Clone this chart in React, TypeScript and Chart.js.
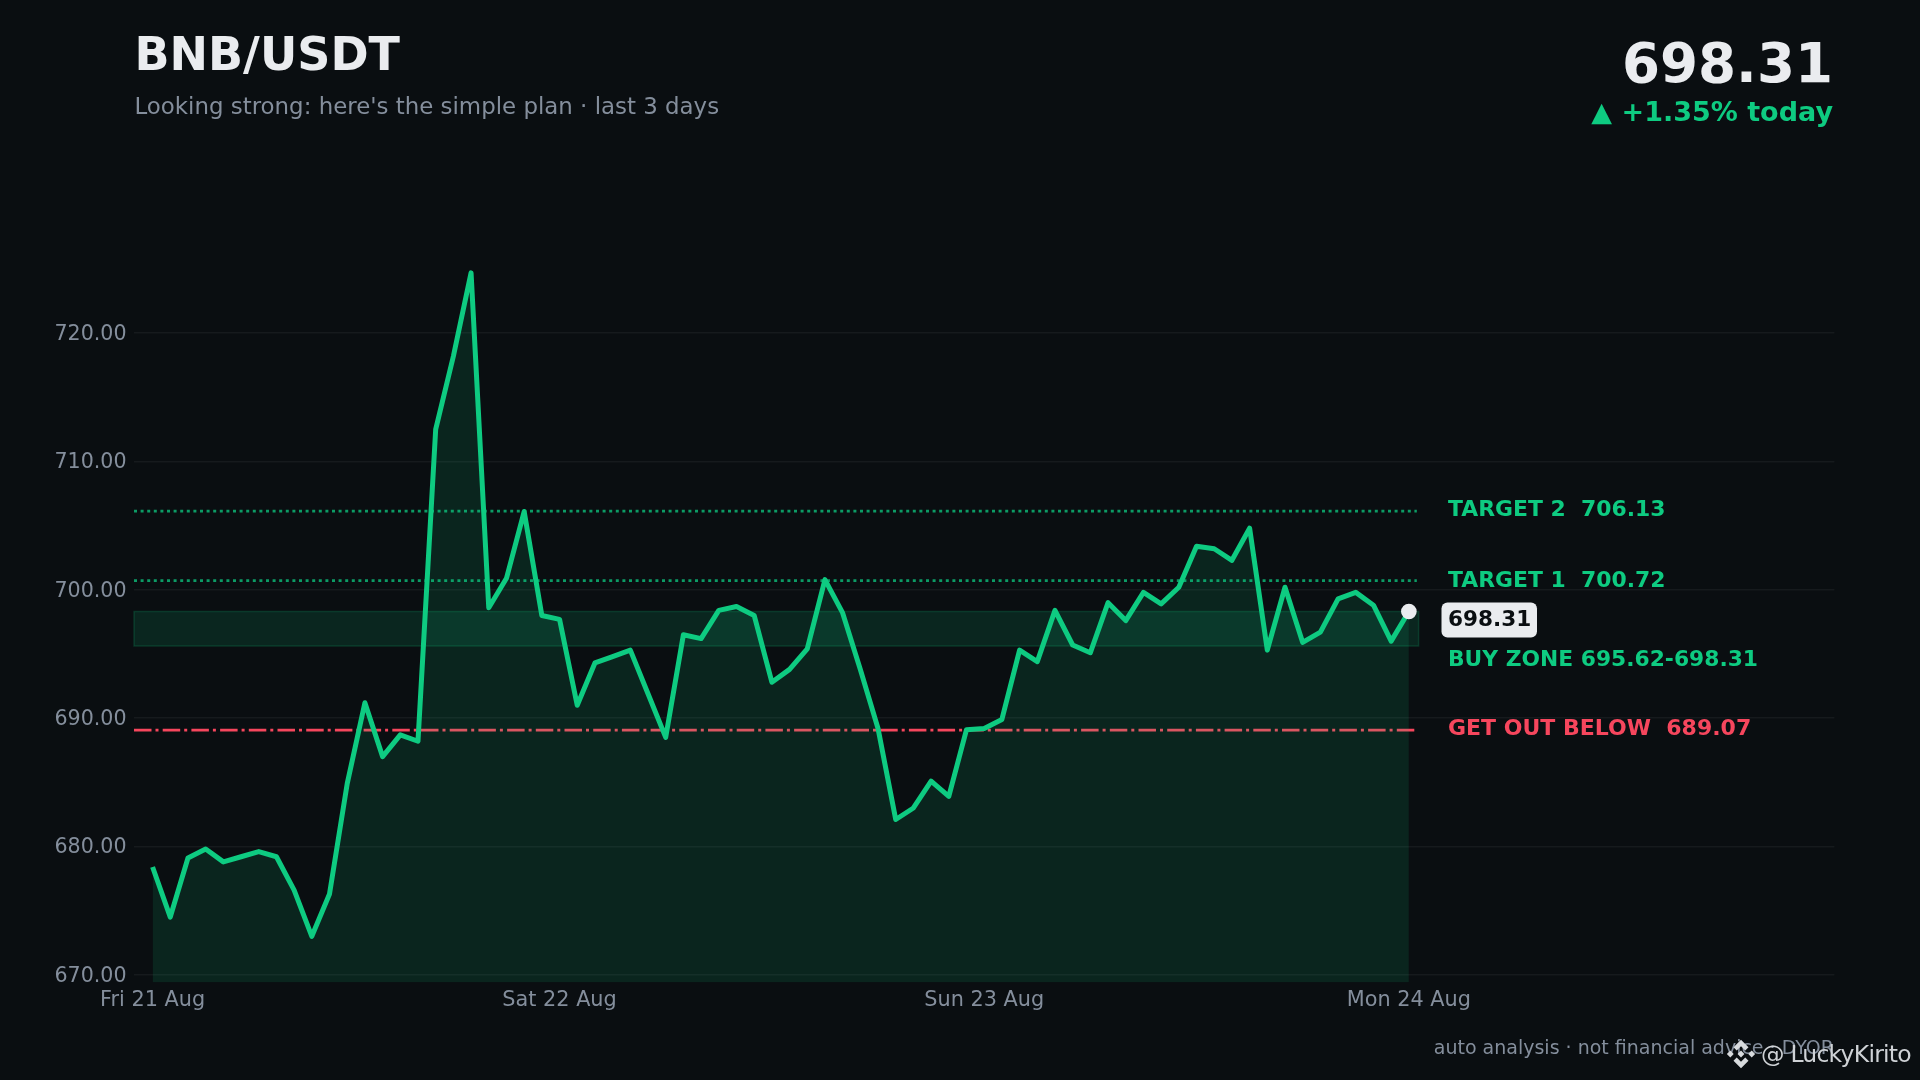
import React, { useEffect, useRef } from "react";
import { Chart, registerables } from "chart.js";

Chart.register(...registerables);

const prices = [
  678.4, 674.5, 679.1, 679.8, 678.8, 679.2, 679.6, 679.2, 676.6, 673.0, 676.3, 684.9,
  691.2, 687.0, 688.7, 688.2, 712.5, 718.2, 724.7, 698.6, 700.9, 706.1, 698.0, 697.7,
  691.0, 694.3, 694.8, 695.3, 691.9, 688.5, 696.5, 696.2, 698.4, 698.7, 698.0, 692.8,
  693.8, 695.4, 700.8, 698.2, 693.8, 689.2, 682.1, 683.0, 685.1, 683.9, 689.1, 689.2,
  689.9, 695.3, 694.4, 698.4, 695.7, 695.1, 699.0, 697.6, 699.8, 698.9, 700.2, 703.4,
  703.2, 702.3, 704.8, 695.3, 700.2, 695.9, 696.7, 699.3, 699.8, 698.8, 696.0, 698.31,
];
const xTickIndices = [0, 23, 47, 71];
const xTickLabels = ["Fri 21 Aug", "Sat 22 Aug", "Sun 23 Aug", "Mon 24 Aug"];
const yTicks = [670, 680, 690, 700, 710, 720];

const target1 = 700.72;
const target2 = 706.13;
const stopLevel = 689.07;
const zoneLow = 695.62;
const zoneHigh = 698.31;
const lastPrice = 698.31;
const levelStart = -1.05;
const levelEnd = 71.45;
const zoneEnd = 71.55;

const target1Text = "TARGET 1  700.72";
const target2Text = "TARGET 2  706.13";
const zoneText = "BUY ZONE 695.62-698.31";
const stopText = "GET OUT BELOW  689.07";
const pillText = "698.31";

const FONT = '"DejaVu Sans", sans-serif';
const BG = "#0a0e11";
const GREEN = "#0ecb81";
const RED = "#f6465d";
const WHITE = "#eaecef";
const GRAY = "#848e9c";

const overlayPlugin = {
  id: "overlay",
  beforeDatasetsDraw(chart: any) {
    const { ctx, scales } = chart;
    const x0 = scales.x.getPixelForValue(levelStart);
    const x1 = scales.x.getPixelForValue(zoneEnd);
    const y0 = scales.y.getPixelForValue(zoneHigh);
    const y1 = scales.y.getPixelForValue(zoneLow);
    ctx.save();
    ctx.fillStyle = "rgba(14,203,129,0.13)";
    ctx.fillRect(x0, y0, x1 - x0, y1 - y0);
    ctx.strokeStyle = "rgba(14,203,129,0.18)";
    ctx.lineWidth = 1.5;
    ctx.strokeRect(x0, y0, x1 - x0, y1 - y0);
    ctx.restore();
  },
  afterDatasetsDraw(chart: any) {
    const { ctx, scales } = chart;
    const y = (v: number) => scales.y.getPixelForValue(v);
    const tx = 1448;
    ctx.save();
    ctx.textBaseline = "middle";
    ctx.textAlign = "left";
    ctx.font = `bold 21.9px ${FONT}`;
    ctx.fillStyle = GREEN;
    ctx.fillText(target2Text, tx, y(target2) - 0.5);
    ctx.fillText(target1Text, tx, y(target1) + 0.5);
    ctx.font = `bold 21.8px ${FONT}`;
    ctx.fillText(zoneText, tx, y((zoneLow + zoneHigh) / 2) + 31.5);
    ctx.font = `bold 22px ${FONT}`;
    ctx.fillStyle = RED;
    ctx.fillText(stopText, tx, y(stopLevel) - 0.5);
    const py = y(lastPrice) + 8.5;
    ctx.fillStyle = WHITE;
    ctx.beginPath();
    ctx.roundRect(1441.5, py - 17.5, 95.5, 35, 6);
    ctx.fill();
    ctx.font = `bold 21.6px ${FONT}`;
    ctx.fillStyle = BG;
    ctx.fillText(pillText, 1448, py + 0.5);
    ctx.restore();
  },
};

function levelLine(value: number, color: string, dash: number[], width: number, order: number) {
  return {
    type: "line" as const,
    data: [
      { x: levelStart, y: value },
      { x: levelEnd, y: value },
    ],
    borderColor: color,
    borderWidth: width,
    borderDash: dash,
    pointRadius: 0,
    fill: false,
    order,
  };
}

const textBase: React.CSSProperties = {
  position: "absolute",
  fontFamily: FONT,
  whiteSpace: "pre",
  lineHeight: 1,
  margin: 0,
};

export default function App() {
  const ref = useRef<HTMLCanvasElement | null>(null);
  useEffect(() => {
    document.body.style.margin = "0";
    document.body.style.background = BG;
    const chart = new Chart(ref.current!, {
      type: "line",
      data: {
        datasets: [
          {
            data: [{ x: prices.length - 1, y: lastPrice }],
            pointRadius: 7.8,
            pointBackgroundColor: WHITE,
            pointBorderWidth: 0,
            showLine: false,
            order: 0,
          },
          {
            data: prices.map((y, x) => ({ x, y })),
            borderColor: GREEN,
            borderWidth: 5,
            borderJoinStyle: "round",
            backgroundColor: "rgba(14,203,129,0.12)",
            fill: "start",
            tension: 0,
            pointRadius: 0,
            order: 1,
          },
          levelLine(target2, "rgba(14,203,129,0.75)", [3, 3.6], 2.8, 2),
          levelLine(target1, "rgba(14,203,129,0.75)", [3, 3.6], 2.8, 2),
          levelLine(stopLevel, RED, [17.5, 4, 3, 4.2], 2.8, 2),
        ] as any,
      },
      options: {
        responsive: false,
        animation: false,
        devicePixelRatio: 1,
        layout: { padding: { top: 230.5, right: 85.6, left: 0, bottom: 0 } },
        plugins: { legend: { display: false }, tooltip: { enabled: false }, title: { display: false } },
        scales: {
          x: {
            type: "linear",
            min: -1.05,
            max: 95.05,
            afterBuildTicks: (s: any) => {
              s.ticks = xTickIndices.map((value) => ({ value }));
            },
            afterFit: (s: any) => {
              s.height = 97.5;
            },
            grid: { display: false, drawTicks: false },
            border: { display: false },
            ticks: {
              autoSkip: false,
              maxRotation: 0,
              padding: 6,
              color: GRAY,
              font: { family: FONT, size: 20.8 },
              callback: (v: any) => xTickLabels[xTickIndices.indexOf(Number(v))] ?? "",
            },
          },
          y: {
            type: "linear",
            min: 669.4,
            max: 728,
            afterBuildTicks: (s: any) => {
              s.ticks = yTicks.map((value) => ({ value }));
            },
            afterFit: (s: any) => {
              s.width = 134;
            },
            grid: { color: "rgba(255,255,255,0.05)", lineWidth: 1.5, drawTicks: false },
            border: { display: false },
            ticks: {
              padding: 7.5,
              labelOffset: 1.5,
              color: GRAY,
              font: { family: FONT, size: 20.6 },
              callback: (v: any) => Number(v).toFixed(2),
            },
          },
        },
      },
      plugins: [overlayPlugin],
    } as any);
    return () => chart.destroy();
  }, []);

  return (
    <div style={{ position: "relative", width: 1920, height: 1080, background: BG, overflow: "hidden" }}>
      <canvas ref={ref} width={1920} height={1080} style={{ position: "absolute", left: 0, top: 0, display: "block" }} />
      <div style={{ ...textBase, left: 134.5, top: 31, fontSize: 46, fontWeight: 700, color: WHITE }}>BNB/USDT</div>
      <div style={{ ...textBase, left: 134.5, top: 95, fontSize: 22.9, color: GRAY }}>
        Looking strong: here's the simple plan · last 3 days
      </div>
      <div style={{ ...textBase, right: 87, top: 36, fontSize: 54.7, fontWeight: 700, color: WHITE }}>698.31</div>
      <div style={{ ...textBase, right: 87, top: 98, fontSize: 27, fontWeight: 700, color: GREEN }}>▲ +1.35% today</div>
      <div style={{ ...textBase, right: 86, top: 1038, fontSize: 19, color: GRAY }}>
        auto analysis · not financial advice · DYOR
      </div>
      <svg
        width="30"
        height="30"
        viewBox="0 0 28 28"
        style={{ position: "absolute", left: 1726, top: 1039 }}
      >
        <g fill="#d8dbde">
          <polygon points="14,0.8 21,7.8 18,10.8 14,6.8 10,10.8 7,7.8" />
          <polygon points="4,10.8 7.2,14 4,17.2 0.8,14" />
          <polygon points="14,10.8 17.2,14 14,17.2 10.8,14" />
          <polygon points="24,10.8 27.2,14 24,17.2 20.8,14" />
          <polygon points="7,20.2 10,17.2 14,21.2 18,17.2 21,20.2 14,27.2" />
        </g>
      </svg>
      <div style={{ ...textBase, left: 1761, top: 1042.5, fontSize: 23.5, letterSpacing: -0.77, color: "#cfd2d6" }}>
        @ LuckyKirito
      </div>
    </div>
  );
}
